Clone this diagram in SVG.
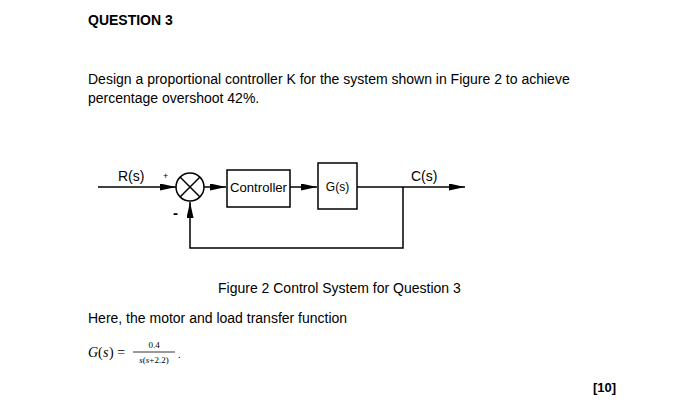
<svg xmlns="http://www.w3.org/2000/svg" width="700" height="416" viewBox="0 0 700 416">
<style>
.t{font-family:"Liberation Sans",Arial,sans-serif;fill:#000}
.ln{stroke:#000;stroke-width:1.5;fill:none}
.bx{stroke:#000;stroke-width:1.5;fill:#fff}
.m{font-family:"Liberation Serif","Times New Roman",serif;font-style:italic}
</style>
<defs>
<marker id="b" viewBox="0 0 10 10" refX="10" refY="5" markerWidth="16" markerHeight="7" orient="auto" markerUnits="userSpaceOnUse" preserveAspectRatio="none"><path d="M0,0L10,5L0,10z"/></marker></defs>
<rect width="700" height="416" fill="#fff"/>
<text class="t" x="88" y="25" font-size="14" font-weight="bold">QUESTION 3</text>
<text class="t" x="88" y="84" font-size="14">Design a proportional controller K for the system shown in Figure 2 to achieve</text>
<text class="t" x="88" y="103" font-size="14">percentage overshoot 42%.</text>
<g id="conn">
<line class="ln" x1="98" y1="187" x2="176" y2="187" marker-end="url(#b)"/>
<line class="ln" x1="204" y1="187" x2="226" y2="187" marker-end="url(#b)"/>
<line class="ln" x1="290" y1="187" x2="317" y2="187" marker-end="url(#b)"/>
<line class="ln" x1="357" y1="187" x2="465" y2="187" marker-end="url(#b)"/>
<polyline class="ln" points="403,187 403,248 190,248 190,202" marker-end="url(#b)"/>
</g>
<g id="sum"><circle class="bx" cx="190" cy="187" r="14"/><path class="ln" d="M180,177L200,197M200,177L180,197"/></g>
<g id="controller"><rect class="bx" x="227" y="170" width="63" height="37"/><text class="t" x="258.5" y="192" font-size="12" text-anchor="middle" fill="#333" textLength="57" lengthAdjust="spacingAndGlyphs">Controller</text></g>
<g id="gs"><rect class="bx" x="318" y="163" width="39" height="46"/><text class="t" x="337.5" y="191" font-size="12" text-anchor="middle">G(s)</text></g>
<text class="t" x="118" y="181" font-size="14">R(s)</text>
<text class="t" x="411" y="181" font-size="14">C(s)</text>
<text class="t" x="163" y="179" font-size="9">+</text>
<text class="t" x="173" y="218" font-size="15" font-weight="bold">-</text>
<text class="t" x="218" y="293" font-size="14">Figure 2 Control System for Question 3</text>
<text class="t" x="88" y="323" font-size="14">Here, the motor and load transfer function</text>
<text class="m" x="88" y="357" font-size="14">G</text><text x="98" y="357" font-size="14" font-family="Liberation Serif,serif">(</text><text class="m" x="103" y="357" font-size="14">s</text><text x="109" y="357" font-size="14" font-family="Liberation Serif,serif">) =</text>
<text x="154" y="348" font-size="9" text-anchor="middle" font-family="Liberation Serif,serif">0.4</text>
<line x1="133" y1="352" x2="175" y2="352" stroke="#000" stroke-width="0.8"/>
<text x="154" y="363" font-size="9" text-anchor="middle" font-family="Liberation Serif,serif"><tspan font-style="italic">s</tspan>(<tspan font-style="italic">s</tspan>+2.2)</text>
<text x="178" y="358" font-size="11" font-family="Liberation Serif,serif">.</text>
<text class="t" x="593" y="392" font-size="13" font-weight="bold">[10]</text>
</svg>
